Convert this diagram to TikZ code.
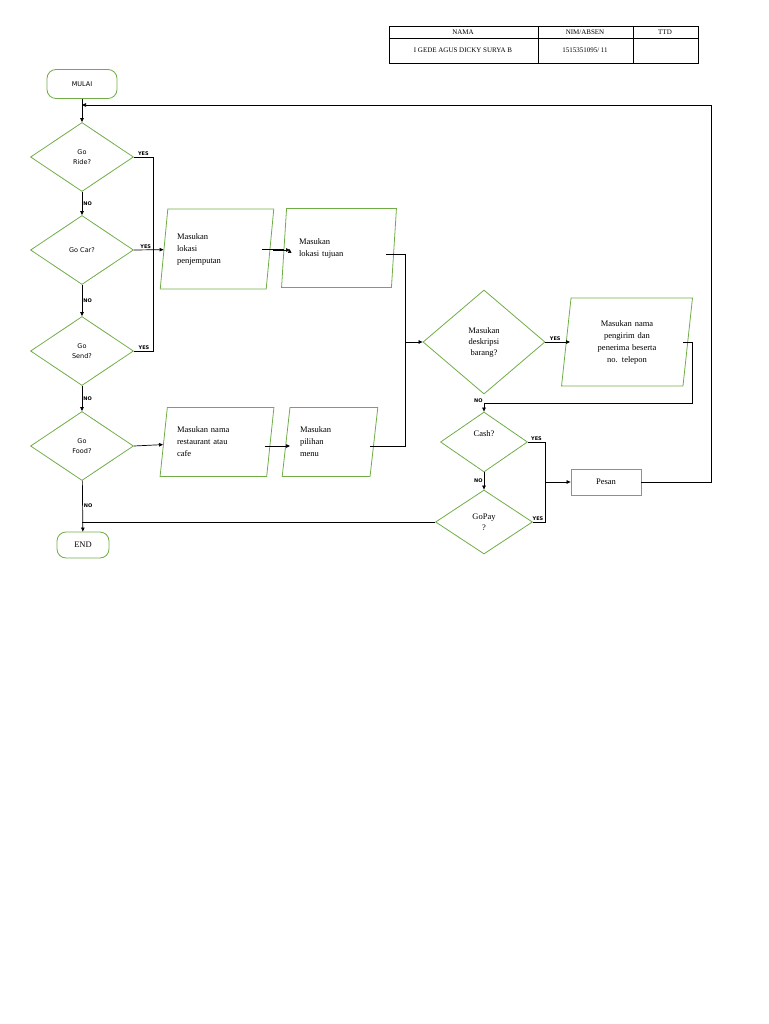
\documentclass[tikz,border=0pt]{standalone}
\usepackage{fontspec}
\setmainfont{Liberation Serif}
\newfontfamily\lblfont{DejaVu Sans}
\usetikzlibrary{shapes.geometric,arrows.meta}
\definecolor{fgreen}{HTML}{70AD47}
\begin{document}
\begin{tikzpicture}[x=1pt,y=-1pt,
  line width=0.7pt,
  box/.style={draw=fgreen,line width=0.8pt,inner sep=0pt},
  dec/.style={box,diamond,aspect=1.5,font=\lblfont\fontsize{6.5}{10}\selectfont,align=center},
  decs/.style={box,diamond,font=\fontsize{8.5}{11}\selectfont,align=center},
  io/.style={box,trapezium,trapezium left angle=79,trapezium right angle=101,trapezium stretches=true,font=\fontsize{8.5}{12}\selectfont,align=left},
  term/.style={box,rounded corners=9pt,minimum height=29pt},
  arr/.style={-{Triangle[length=4pt,width=3.5pt]}},
  yn/.style={font=\lblfont\bfseries\fontsize{5}{6}\selectfont,inner sep=1pt}]
\useasboundingbox (0,0) rectangle (768,1024);
% table
\draw[line width=0.6pt] (389,26) rectangle (698,63) (389,38) -- (698,38) (538,26) -- (538,63) (633,26) -- (633,63);
\node[font=\fontsize{7}{8}\selectfont] (t1) at (463,32) {NAMA};
\node[font=\fontsize{7}{8}\selectfont] (t2) at (585,32) {NIM/ABSEN};
\node[font=\fontsize{7}{8}\selectfont] (t3) at (665,32) {TTD};
\node[font=\fontsize{7}{8}\selectfont] (t4) at (463,50) {I GEDE AGUS DICKY SURYA B};
\node[font=\fontsize{7}{8}\selectfont] (t5) at (585,50) {1515351095/ 11};
% nodes
\node[term,minimum width=70pt,font=\lblfont\fontsize{6.5}{8}\selectfont] (mulai) at (82,84) {MULAI};
\node[dec,minimum width=103pt,minimum height=69pt] (ride) at (82,157) {Go\\Ride?};
\node[dec,minimum width=103pt,minimum height=69pt] (car) at (82,250) {Go Car?};
\node[dec,minimum width=103pt,minimum height=69pt] (send) at (82,351) {Go\\Send?};
\node[dec,minimum width=103pt,minimum height=69pt] (food) at (82,446) {Go\\Food?};
\node[term,minimum width=52pt,minimum height=26pt,rounded corners=9pt,font=\fontsize{8.5}{10}\selectfont] (end) at (83,545) {END};
\node[io,minimum width=114pt,minimum height=80pt,text width=80pt] (p1) at (217,249) {Masukan\\lokasi\\penjemputan};
\node[io,minimum width=115pt,minimum height=79pt,text width=80pt] (p2) at (339,248) {Masukan\\lokasi tujuan\\[8pt]};
\node[io,minimum width=114pt,minimum height=69pt,text width=80pt] (p3) at (217,442) {Masukan nama\\restaurant atau\\cafe};
\node[io,minimum width=96pt,minimum height=69pt,text width=60pt] (p4) at (330,442) {Masukan\\pilihan\\menu};
\node[decs,minimum width=122pt,minimum height=104pt,aspect=1.17] (desk) at (484,342) {Masukan\\deskripsi\\barang?};
\node[io,align=center,minimum width=131pt,minimum height=88pt,text width=100pt] (p5) at (627,342) {Masukan nama\\pengirim dan\\penerima beserta\\no. telepon};
\node[decs,minimum width=87pt,minimum height=60pt,aspect=1.45] (cash) at (484,442) {Cash?\\[6pt]};
\node[decs,minimum width=97pt,minimum height=64pt,aspect=1.5] (gopay) at (484,522) {GoPay\\?};
\node[box,minimum width=70pt,minimum height=26pt,font=\fontsize{8.5}{10}\selectfont] (pesan) at (606,482) {Pesan};
\coordinate (trunk) at (405,342);
\coordinate (yt) at (545,482);
% connectors
\draw[arr] (mulai) -- (ride);
\draw[arr] (ride) -- node[yn,right]{NO} (car);
\draw[arr] (car) -- node[yn,right]{NO} (send);
\draw[arr] (send) -- node[yn,right]{NO} (food);
\draw[arr] (food) -- node[yn,right]{NO} (end);
\draw (ride.east) -- node[yn,above,pos=0.5]{YES} ++(19,0) |- (send.east);
\node[yn,above] (ys) at (144,351) {YES};
\draw[arr] (car.east) -- node[yn,above,pos=0.4]{YES} (p1);
\draw[arr] (p1.east) ++(-8,0) coordinate (a1) -- (a1 -| p2.west) ++(6,0);
\draw[arr] (273,250) -- (290,250);
\draw[arr] (food.east) -- (p3);
\draw[arr] (265,446) -- (290,446);
\draw (386,254) -| (trunk);
\draw (370,446) -| (trunk);
\draw[arr] (trunk) -- (desk.west);
\draw[arr] (desk.east) -- node[yn,above,pos=0.4]{YES} (570,342);
\draw[arr] (683,342) -- (692,342) |- (484,403) -- (cash.north);
\node[yn,left] (n1) at (484,401) {NO};
\draw[arr] (cash) -- node[yn,left]{NO} (gopay);
\draw (cash.east) -- node[yn,above]{YES} (545,442) |- (gopay.east);
\node[yn,above] (y2) at (538,522) {YES};
\draw[arr] (yt) -- (pesan.west);
\draw[arr] (pesan.east) -- (711,482) |- (82,105);
\draw (gopay.west) -- (82,522);
\end{tikzpicture}
\end{document}
